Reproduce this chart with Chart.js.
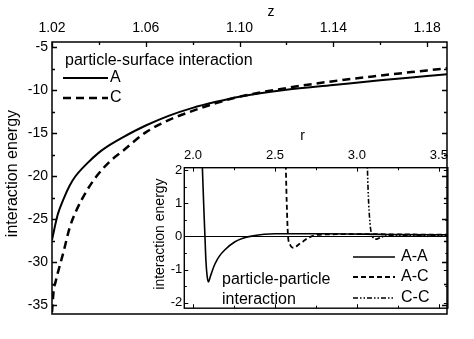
<!DOCTYPE html>
<html><head><meta charset="utf-8">
<script src="https://cdn.jsdelivr.net/npm/chart.js@4/dist/chart.umd.min.js"></script>
<style>
html,body{margin:0;padding:0;background:#fff;}
#wrap{position:relative;width:474px;height:339px;overflow:hidden;}
#main{position:absolute;left:0;top:0;}
#inset{position:absolute;left:140px;top:120px;}
</style></head><body>
<div id="wrap">
<canvas id="main" width="474" height="339"></canvas>
<canvas id="inset" width="312" height="198"></canvas>
</div>
<script>
// ---- main plot data (particle-surface interaction) ----
const zValues  = [1.02, 1.0207, 1.0215, 1.0225, 1.025, 1.0275, 1.03, 1.035, 1.04, 1.045, 1.05, 1.06, 1.07, 1.08, 1.09, 1.10, 1.12, 1.14, 1.16, 1.18, 1.19];
const surfaceA = [-27.4, -26.5, -25.5, -24.4, -22.6, -21.1, -20.0, -18.5, -17.25, -16.3, -15.5, -14.1, -12.95, -12.05, -11.35, -10.75, -9.95, -9.4, -8.85, -8.35, -8.1];
const surfaceC = [-35.8, -33.3, -32.3, -31.2, -28.7, -26.0, -24.2, -21.6, -19.65, -18.2, -17.1, -14.9, -13.45, -12.4, -11.5, -10.75, -9.75, -8.95, -8.3, -7.7, -7.4];
const zMajorTicks = [1.02, 1.06, 1.10, 1.14, 1.18];
const zMinorTicks = [1.04, 1.08, 1.12, 1.16];
const eMajorTicks = [-35, -30, -25, -20, -15, -10, -5];
const eMinorTicks = [-32.5, -27.5, -22.5, -17.5, -12.5, -7.5];

// ---- inset data (particle-particle interaction) ----
const rAA = [2.055, 2.065, 2.073, 2.079, 2.087, 2.094, 2.105, 2.12, 2.134, 2.16, 2.195, 2.256, 2.3, 2.358, 2.5, 2.8, 3.2, 3.6];
const eAA = [2.4, 1.0, 0.0, -0.74, -1.22, -1.37, -1.22, -1.0, -0.83, -0.6, -0.4, -0.16, -0.06, 0.01, 0.08, 0.08, 0.06, 0.05];
const rAC = [2.565, 2.572, 2.58, 2.59, 2.6, 2.612, 2.63, 2.65, 2.672, 2.7, 2.74, 2.8, 3.0, 3.3, 3.6];
const eAC = [2.4, 1.0, 0.0, -0.22, -0.31, -0.34, -0.3, -0.22, -0.15, -0.05, 0.03, 0.06, 0.07, 0.06, 0.05];
const rCC = [3.062, 3.07, 3.08, 3.09, 3.1, 3.12, 3.14, 3.16, 3.2, 3.4, 3.6];
const eCC = [2.4, 1.2, 0.4, 0.05, -0.04, -0.08, -0.04, 0.0, 0.03, 0.04, 0.03];
const rMajorTicks = [2.0, 2.5, 3.0, 3.5];
const rMinorTicks = [2.25, 2.75, 3.25];
const iMajorTicks = [-2, -1, 0, 1, 2];
const iMinorTicks = [-1.5, -0.5, 0.5, 1.5];

const FONT = "'Liberation Sans', Arial, sans-serif";
Chart.defaults.font.family = FONT;
Chart.defaults.color = '#000';

const pts = (xs, ys) => xs.map((x, i) => ({x, y: ys[i]}));

const frameTicks = {
  id: 'frameTicks',
  afterDatasetsDraw(chart, args, o) {
    const {ctx, chartArea: a, scales: {x, y}} = chart;
    ctx.save();
    ctx.strokeStyle = '#000';
    ctx.setLineDash([]);
    ctx.lineWidth = o.tickWidth;
    ctx.beginPath();
    const mk = (vals, len, isX) => vals.forEach(v => {
      if (isX) {
        const px = Math.round(x.getPixelForValue(v)) + 0.5;
        ctx.moveTo(px, a.top); ctx.lineTo(px, a.top + len);
        if (o.xBottom) { ctx.moveTo(px, a.bottom); ctx.lineTo(px, a.bottom - len); }
      } else {
        const py = Math.round(y.getPixelForValue(v)) + 0.5;
        ctx.moveTo(a.left, py); ctx.lineTo(a.left + len, py);
        ctx.moveTo(a.right, py); ctx.lineTo(a.right - len, py);
      }
    });
    mk(o.xMajor, o.majorLen, true); mk(o.xMinor, o.minorLen, true);
    mk(o.yMajor, o.majorLen, false); mk(o.yMinor, o.minorLen, false);
    ctx.stroke();
    ctx.lineWidth = o.frameWidth;
    ctx.strokeRect(a.left, a.top, a.right - a.left, a.bottom - a.top);
    // legend
    const L = o.legend;
    ctx.fillStyle = '#000';
    ctx.textBaseline = 'middle';
    ctx.textAlign = 'left';
    ctx.font = L.font;
    L.texts.forEach(t => ctx.fillText(t.text, t.x, t.y));
    L.items.forEach(it => {
      const ds = chart.data.datasets[it.dataset];
      ctx.beginPath();
      ctx.lineWidth = ds.borderWidth;
      ctx.setLineDash(ds.borderDash || []);
      ctx.moveTo(it.x1, it.y); ctx.lineTo(it.x2, it.y);
      ctx.stroke();
      ctx.fillText(ds.label, it.tx, it.y);
    });
    ctx.restore();
  }
};

new Chart(document.getElementById('main'), {
  type: 'line',
  data: {
    datasets: [
      {label: 'A', data: pts(zValues, surfaceA), borderColor: '#000', borderWidth: 2, pointRadius: 0, cubicInterpolationMode: 'monotone', fill: false},
      {label: 'C', data: pts(zValues, surfaceC), borderColor: '#000', borderWidth: 2.5, borderDash: [8, 5], pointRadius: 0, cubicInterpolationMode: 'monotone', fill: false}
    ]
  },
  options: {
    responsive: false, animation: false, devicePixelRatio: 1,
    layout: {padding: {left: 0, top: 0, right: 27, bottom: 25}},
    plugins: {
      legend: {display: false}, tooltip: {enabled: false},
      frameTicks: {
        tickWidth: 1.3, frameWidth: 1.5, majorLen: 5, minorLen: 3, xBottom: false,
        xMajor: zMajorTicks, xMinor: zMinorTicks, yMajor: eMajorTicks, yMinor: eMinorTicks,
        legend: {
          font: '16px ' + FONT,
          texts: [{text: 'particle-surface interaction', x: 65, y: 61}],
          items: [
            {dataset: 0, x1: 63, x2: 108, y: 78, tx: 110},
            {dataset: 1, x1: 63, x2: 108, y: 98, tx: 110}
          ]
        }
      }
    },
    scales: {
      x: {
        type: 'linear', position: 'top', min: 1.02, max: 1.1885,
        afterBuildTicks: s => { s.ticks = zMajorTicks.map(v => ({value: v})); },
        afterFit: s => { s.height = 42; },
        grid: {display: false, drawTicks: false}, border: {display: false},
        ticks: {font: {size: 14}, padding: 5, maxRotation: 0, autoSkip: false, callback: v => Number(v).toFixed(2)},
        title: {display: true, text: '           z', font: {size: 14}, padding: {top: 4, bottom: 0}}
      },
      y: {
        type: 'linear', position: 'left', min: -36, max: -4.4,
        afterBuildTicks: s => { s.ticks = eMajorTicks.map(v => ({value: v})); },
        afterFit: s => { s.width = 52; },
        grid: {display: false, drawTicks: false}, border: {display: false},
        ticks: {font: {size: 14}, padding: 4, autoSkip: false, callback: v => String(v)},
        title: {display: true, text: '  interaction energy', font: {size: 16}, padding: {top: 3, bottom: 0}}
      }
    }
  },
  plugins: [frameTicks]
});

new Chart(document.getElementById('inset'), {
  type: 'line',
  data: {
    datasets: [
      {label: 'A-A', data: pts(rAA, eAA), borderColor: '#000', borderWidth: 1.6, pointRadius: 0, cubicInterpolationMode: 'monotone', fill: false},
      {label: 'A-C', data: pts(rAC, eAC), borderColor: '#000', borderWidth: 1.8, borderDash: [5, 3], pointRadius: 0, cubicInterpolationMode: 'monotone', fill: false},
      {label: 'C-C', data: pts(rCC, eCC), borderColor: '#000', borderWidth: 1.6, borderDash: [5, 2, 1.5, 2, 1.5, 2], pointRadius: 0, cubicInterpolationMode: 'monotone', fill: false}
    ]
  },
  options: {
    responsive: false, animation: false, devicePixelRatio: 1,
    layout: {padding: {left: 0, top: 0, right: 3.7, bottom: 4}},
    plugins: {
      legend: {display: false}, tooltip: {enabled: false},
      frameTicks: {
        tickWidth: 1, frameWidth: 1.4, majorLen: 4, minorLen: 2.5, xBottom: true,
        xMajor: rMajorTicks, xMinor: rMinorTicks, yMajor: iMajorTicks, yMinor: iMinorTicks,
        legend: {
          font: '16px ' + FONT,
          texts: [{text: 'particle-particle', x: 82, y: 160}, {text: 'interaction', x: 82, y: 180}],
          items: [
            {dataset: 0, x1: 213, x2: 255, y: 137, tx: 261},
            {dataset: 1, x1: 213, x2: 255, y: 157, tx: 261},
            {dataset: 2, x1: 213, x2: 255, y: 178, tx: 261}
          ]
        }
      }
    },
    scales: {
      x: {
        type: 'linear', position: 'top', min: 1.947, max: 3.555,
        afterBuildTicks: s => { s.ticks = rMajorTicks.map(v => ({value: v})); },
        afterFit: s => { s.height = 47.7; },
        grid: {display: false, drawTicks: false}, border: {display: false},
        ticks: {font: {size: 13}, padding: 4, maxRotation: 0, autoSkip: false, callback: v => Number(v).toFixed(1)},
        title: {display: true, text: 'r       ', font: {size: 14}, padding: {top: 8, bottom: 0}}
      },
      y: {
        type: 'linear', position: 'left', min: -2.16, max: 2.07,
        afterBuildTicks: s => { s.ticks = iMajorTicks.map(v => ({value: v})); },
        afterFit: s => { s.width = 44.3; },
        grid: {display: true, drawTicks: false, lineWidth: 1, color: c => (c.tick && c.tick.value === 0) ? '#000' : 'rgba(0,0,0,0)'},
        border: {display: false},
        ticks: {font: {size: 13}, padding: 2, autoSkip: false, callback: v => String(v)},
        title: {display: true, text: '  interaction energy', font: {size: 14}, padding: {top: 11.6, bottom: 0}}
      }
    }
  },
  plugins: [frameTicks]
});
</script>
</body></html>
